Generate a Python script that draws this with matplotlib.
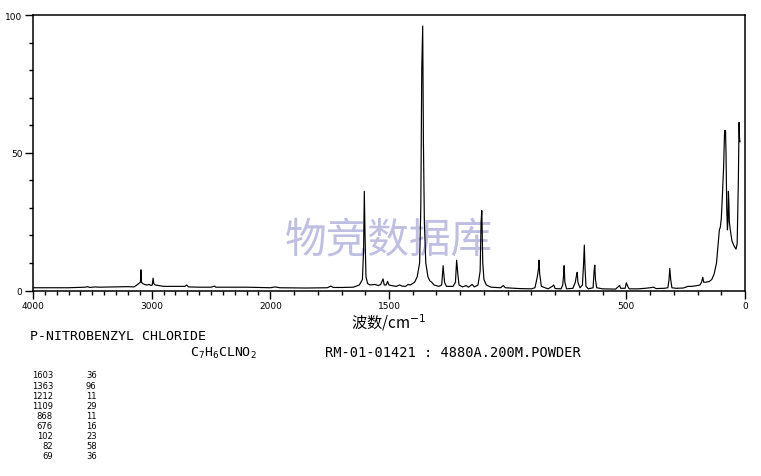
import numpy as np
import matplotlib
matplotlib.use("Agg")
import matplotlib.pyplot as plt
from matplotlib.ticker import FixedLocator

# --- spectrum (wavenumber cm-1, relative intensity) ---
wavenumber = [4000, 3800, 3700, 3560, 3540, 3520, 3480, 3440, 3300, 3200, 3150, 3130, 3110,
              3095, 3090, 3086, 3075, 3060, 3040, 3020, 3005, 2995, 2988, 2982, 2970, 2940,
              2900, 2800, 2720, 2705, 2690, 2600, 2500, 2470, 2460, 2200, 2100, 2000,
              1980, 1960, 1850, 1760, 1745, 1735, 1700, 1650, 1625, 1612, 1607, 1604, 1601,
              1597, 1590, 1580, 1560, 1545, 1535, 1525, 1520, 1512, 1506, 1500, 1490, 1470,
              1455, 1445, 1430, 1420, 1410, 1392, 1381, 1371, 1366, 1362, 1358, 1355, 1351,
              1345, 1336, 1328, 1320, 1310, 1290, 1278, 1272, 1266, 1258, 1230, 1220, 1215,
              1210, 1205, 1190, 1175, 1165, 1150, 1140, 1125, 1116, 1112, 1109, 1105, 1100,
              1090, 1070, 1030, 1018, 1010, 950, 900, 885, 875, 870, 868, 865, 858, 830, 812,
              806, 800, 775, 768, 764, 762, 759, 752, 725, 715, 710, 707, 704, 700, 695, 685,
              680, 677, 674, 670, 660, 640, 636, 633, 630, 625, 600, 545, 533, 528, 524, 505,
              500, 494, 488, 450, 420, 400, 385, 375, 340, 325, 320, 317, 313, 308, 290, 260,
              240, 225, 200, 190, 183, 178, 174, 165, 150, 140, 130, 120, 112, 108, 104, 100,
              95, 90, 86, 84, 82, 80, 77, 74, 72, 70, 68, 66, 62, 55, 45, 38, 33, 28, 25, 23, 21]
intensity = [1.0, 1.0, 1.0, 1.2, 1.4, 1.1, 1.3, 1.2, 1.3, 1.4, 1.3, 1.8, 2.5,
             3.0, 7.5, 3.0, 2.5, 2.2, 2.0, 2.2, 1.8, 2.0, 4.5, 2.5, 2.0, 1.8,
             1.5, 1.5, 1.5, 2.0, 1.3, 1.2, 1.2, 1.6, 1.2, 1.2, 1.1, 1.0,
             1.3, 1.0, 0.9, 1.0, 1.6, 1.1, 1.1, 1.2, 2.0, 4.0, 15, 36, 20,
             5, 2.5, 2.0, 2.2, 1.8, 2.2, 4.2, 2.0, 2.0, 3.3, 2.0, 1.8, 1.5,
             2.0, 1.6, 1.5, 2.2, 2.0, 3.0, 5.0, 10, 30, 80, 96, 54, 25,
             10, 5, 3.5, 3.0, 2.0, 1.5, 2.0, 9, 3.0, 1.5, 1.5, 3.0, 11,
             6, 2.0, 1.3, 1.8, 1.2, 2.2, 1.3, 2.0, 7, 25, 29, 10, 4,
             2.0, 1.2, 1.0, 1.8, 1.0, 0.7, 0.6, 1.0, 5, 8, 11, 6, 1.5, 0.6, 1.5,
             2.0, 0.7, 0.6, 2.0, 6, 9, 3.0, 0.6, 0.8, 3.0, 5.5, 6.6, 3.0, 2.0, 1.0, 2.0,
             10, 16.5, 8, 1.5, 0.6, 1.0, 7, 9.2, 4, 1.0, 0.6, 0.5, 1.5, 1.8, 0.8, 0.8,
             2.8, 1.5, 0.6, 0.6, 0.8, 1.0, 1.2, 0.7, 0.8, 1.0, 4, 8, 4, 1.0, 0.8, 0.9,
             1.5, 1.5, 1.8, 2.0, 3.0, 4.8, 3.0, 3.0, 3.3, 4.0, 6, 10, 18, 22, 23, 26,
             35, 45, 58, 57, 58, 50, 30, 22, 25, 36, 32, 25, 22, 18, 16, 15, 17, 40, 61, 55, 54]

x_ticks = [4000, 3000, 2000, 1500, 500, 0]
y_ticks = [0, 50, 100]

title = "P-NITROBENZYL CHLORIDE"
formula = r"$\mathtt{C_7H_6CLNO_2}$"
record = "RM-01-01421 : 4880A.200M.POWDER"
peak_pos = [1603, 1363, 1212, 1109, 868, 676, 102, 82, 69]
peak_int = [36, 96, 11, 29, 11, 16, 23, 58, 36]


# above 2000 cm-1 the axis is compressed by half
def fwd(v):
    v = np.asarray(v, dtype=float)
    return np.where(v > 2000, 2000 + (v - 2000) / 2.0, v)


def inv(p):
    p = np.asarray(p, dtype=float)
    return np.where(p > 2000, 2000 + (p - 2000) * 2.0, p)


plt.rcParams['font.family'] = ['DejaVu Sans', 'Noto Sans CJK SC']

fig = plt.figure(figsize=(7.61, 4.77), dpi=100)
ax = fig.add_axes([33 / 761, 1 - 291.5 / 477, 712 / 761, 275.5 / 477])

ax.plot(wavenumber, intensity, color='black', lw=0.85)

ax.set_xscale('function', functions=(fwd, inv))
ax.set_xlim(4000, 0)
ax.set_ylim(0, 100)

ax.xaxis.set_major_locator(FixedLocator(x_ticks))
ax.xaxis.set_minor_locator(FixedLocator(list(range(0, 4001, 100))))
ax.set_xticklabels([str(t) for t in x_ticks])
ax.yaxis.set_major_locator(FixedLocator(y_ticks))
ax.yaxis.set_minor_locator(FixedLocator(list(range(0, 101, 10))))
ax.set_yticklabels([str(t) for t in y_ticks])

ax.tick_params(which='major', direction='out', length=6, width=1, labelsize=6.5, pad=1.5)
ax.tick_params(which='minor', direction='out', length=3, width=1)
for s in ax.spines.values():
    s.set_linewidth(1.1)

ax.set_xlabel("波数/cm$^{-1}$", family=['Noto Sans CJK SC', 'DejaVu Sans'],
              fontsize=11, labelpad=1)

# watermark
ax.text(0.5, 0.185, "物竞数据库", transform=ax.transAxes, ha='center', va='center',
        fontsize=30, color='#b4b4e0', alpha=0.85, family='Noto Sans CJK SC', zorder=0)

# header text under the plot
fig.text(30 / 761, 1 - 337 / 477, title, family='DejaVu Sans Mono', fontsize=9.5,
         va='center', ha='left')
fig.text(190 / 761, 1 - 353 / 477, formula, fontsize=9.5, va='center', ha='left')
fig.text(325 / 761, 1 - 353 / 477, record, family='DejaVu Sans Mono', fontsize=9.8,
         va='center', ha='left')

for i, (p, v) in enumerate(zip(peak_pos, peak_int)):
    yy = 1 - (376 + i * 10.1) / 477
    fig.text(53 / 761, yy, str(p), fontsize=6, ha='right', va='center')
    fig.text(86 / 761, yy, str(v), fontsize=6, ha='left', va='center')

fig.savefig("out.png", dpi=100)
